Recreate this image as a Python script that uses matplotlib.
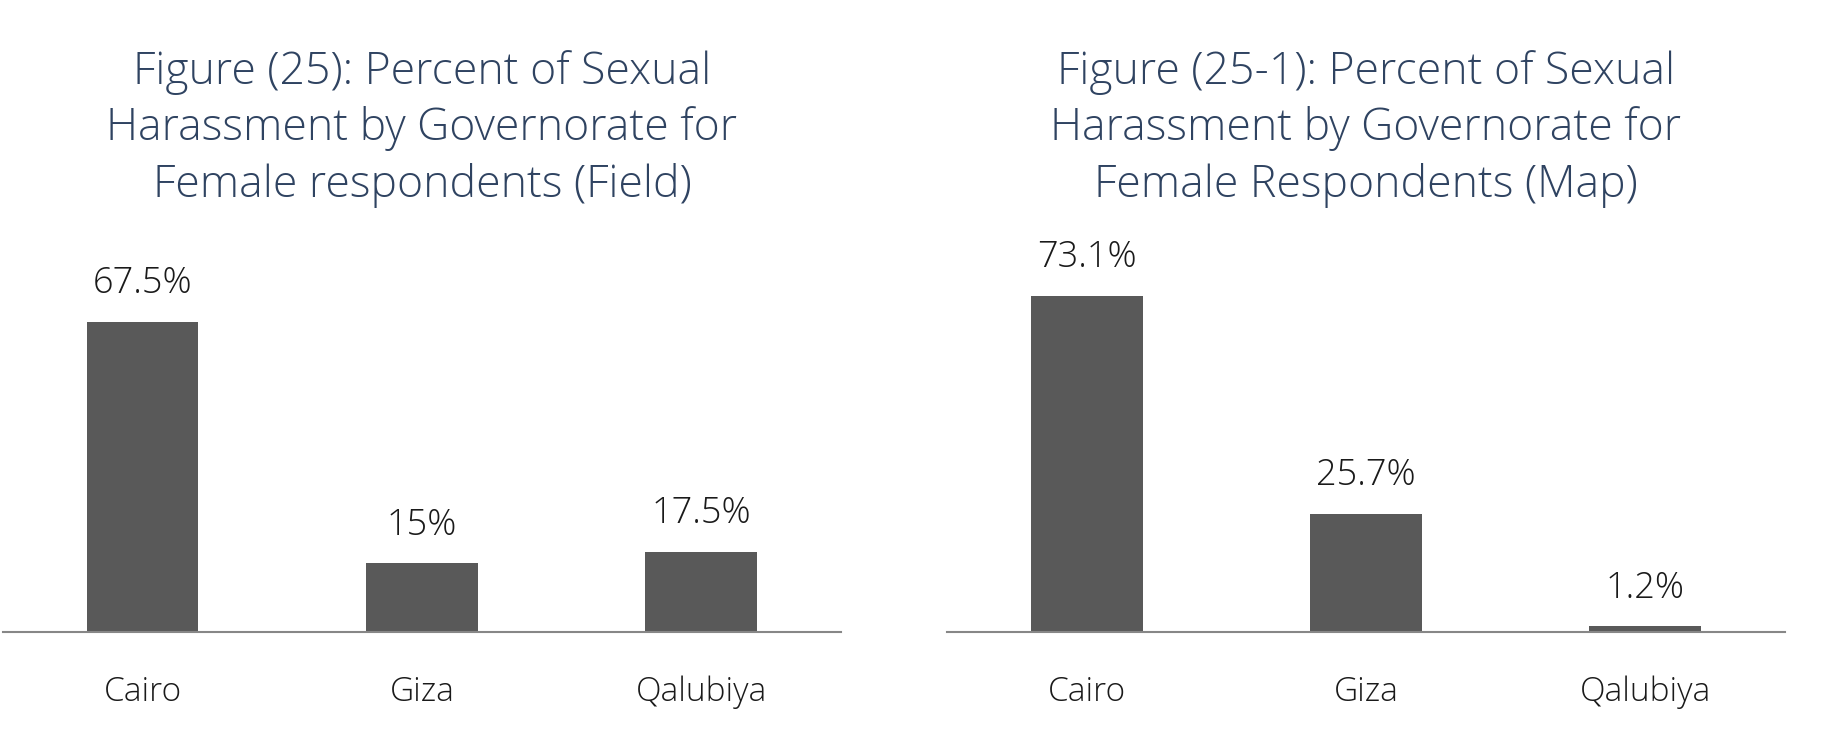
import matplotlib
matplotlib.use("Agg")
import matplotlib.pyplot as plt

plt.rcParams["font.family"] = ["Open Sans", "DejaVu Sans"]

categories = ["Cairo", "Giza", "Qalubiya"]
field_values = [67.5, 15, 17.5]
map_values = [73.1, 25.7, 1.2]
field_labels = ["67.5%", "15%", "17.5%"]
map_labels = ["73.1%", "25.7%", "1.2%"]

title_left = "Figure (25): Percent of Sexual\nHarassment by Governorate for\nFemale respondents (Field)"
title_right = "Figure (25-1): Percent of Sexual\nHarassment by Governorate for\nFemale Respondents (Map)"

bar_color = "#595959"
title_color = "#2f4361"
text_color = "#1a1a1a"

fig = plt.figure(figsize=(18.24, 7.49), dpi=100)

ax_left = fig.add_axes([0.0016, 0.1562, 0.4594, 0.614])
ax_right = fig.add_axes([0.5192, 0.1562, 0.4594, 0.614])


def draw_panel(ax, values, labels, title):
    x = range(len(categories))
    bars = ax.bar(x, values, width=0.4, color=bar_color)
    ax.set_xlim(-0.5, 2.5)
    ax.set_ylim(0, 100)
    for b, lab in zip(bars, labels):
        ax.annotate(lab, (b.get_x() + b.get_width() / 2, b.get_height()),
                    xytext=(0, 20.5), textcoords="offset points",
                    ha="center", va="baseline", fontsize=26,
                    fontweight="light", color=text_color)
    ax.set_xticks(list(x))
    ax.set_xticklabels(categories, fontsize=24, fontweight="light", color=text_color)
    ax.tick_params(axis="x", length=0, pad=31)
    ax.set_yticks([])
    for s in ["top", "left", "right"]:
        ax.spines[s].set_visible(False)
    ax.spines["bottom"].set_color("#878787")
    ax.spines["bottom"].set_linewidth(1.5)
    # title centred over the axes, baseline of last line at y=197px
    pos = ax.get_position()
    fig.text(pos.x0 + pos.width / 2, 1 - 197 / 749, title, ha="center", va="baseline",
             fontsize=32, fontweight="light", color=title_color, linespacing=1.34)


draw_panel(ax_left, field_values, field_labels, title_left)
draw_panel(ax_right, map_values, map_labels, title_right)

fig.savefig("out.png", dpi=100, facecolor="white")
